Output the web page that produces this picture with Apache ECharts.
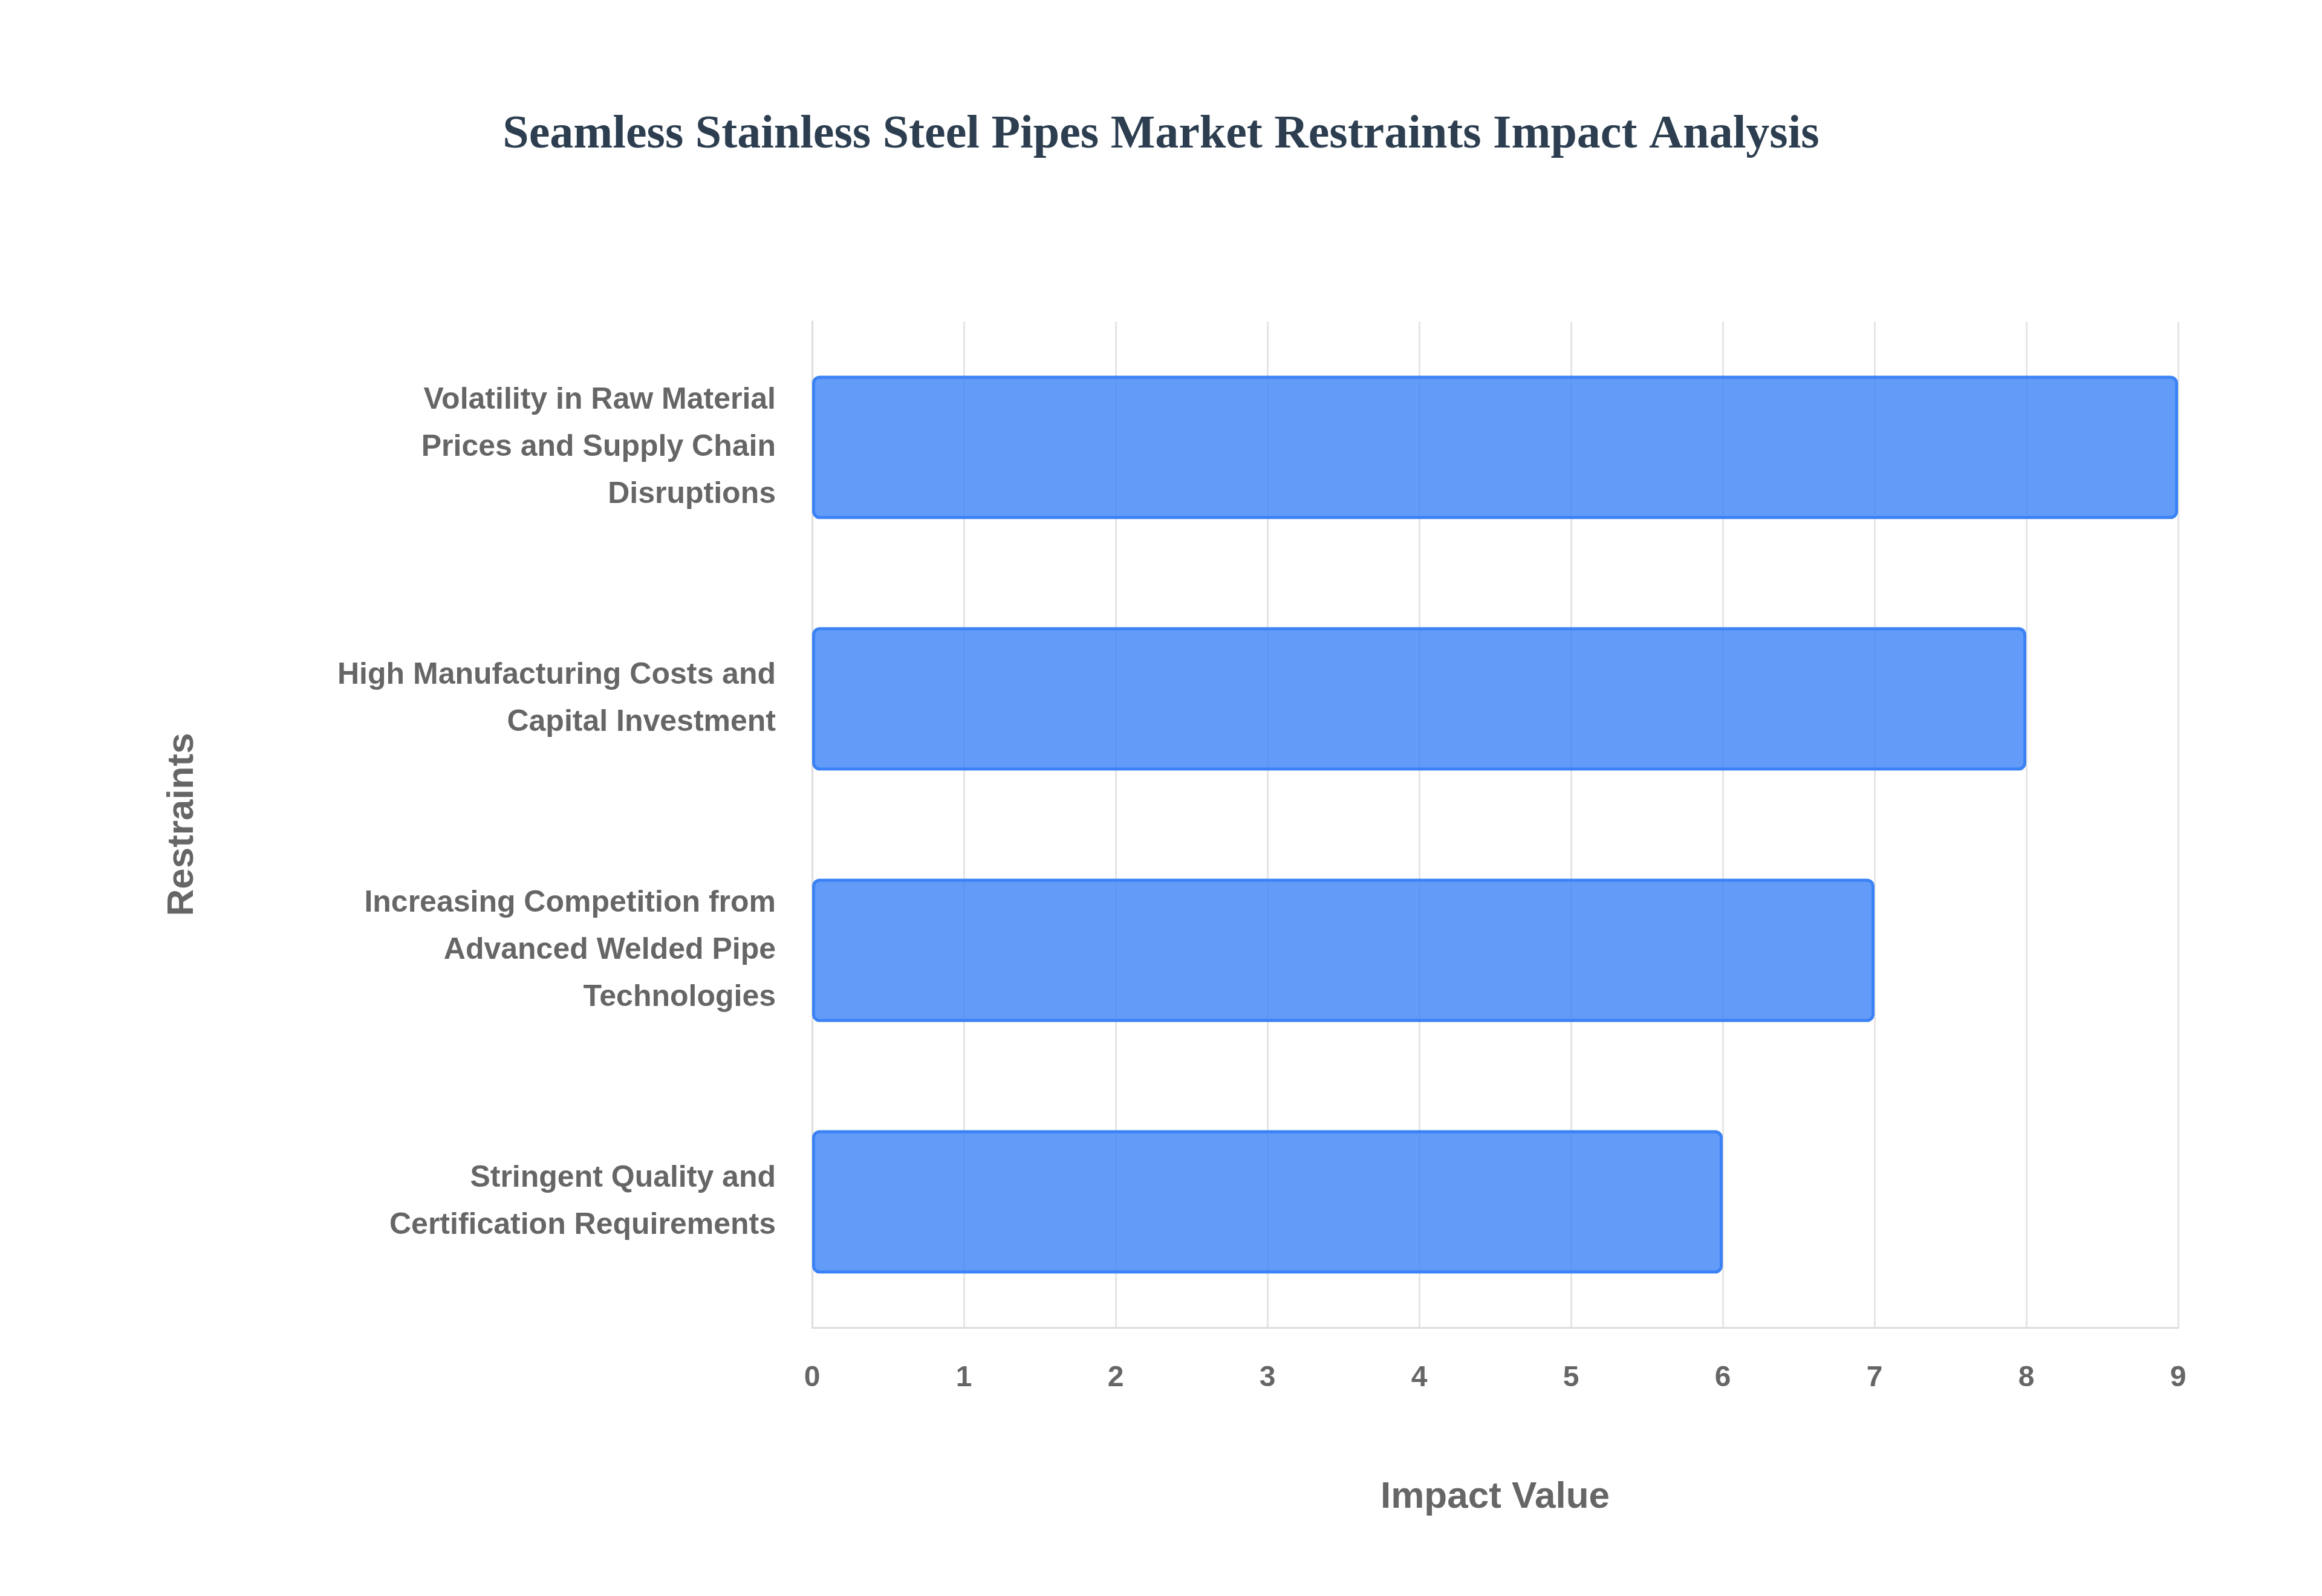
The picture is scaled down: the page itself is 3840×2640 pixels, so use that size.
<!DOCTYPE html>
<html>
<head>
<meta charset="utf-8">
<script src="https://cdn.jsdelivr.net/npm/echarts@6/dist/echarts.min.js"></script>
<style>html,body{margin:0;padding:0;background:#fff}#chart{width:3840px;height:2640px}</style>
</head>
<body>
<div id="chart"></div>
<script>
const restraints = [
  "Stringent Quality and\nCertification Requirements",
  "Increasing Competition from\nAdvanced Welded Pipe\nTechnologies",
  "High Manufacturing Costs and\nCapital Investment",
  "Volatility in Raw Material\nPrices and Supply Chain\nDisruptions"
];
const impactValues = [6, 7, 8, 9];

let chart = echarts.init(document.getElementById("chart"));
let option = {
  backgroundColor: "#fff",
  title: {
    text: "Seamless Stainless Steel Pipes Market Restraints Impact Analysis",
    left: "center",
    top: 180,
    textStyle: {
      fontFamily: "Liberation Serif",
      fontWeight: "bold",
      fontSize: 78,
      color: "#2c3e50"
    }
  },
  grid: { left: 1343, right: 3840 - 3602, top: 532, bottom: 2640 - 2196 },
  xAxis: {
    type: "value",
    min: 0,
    max: 9,
    interval: 1,
    name: "Impact Value",
    nameLocation: "middle",
    nameGap: 250,
    nameTextStyle: { fontFamily: "Liberation Sans", fontWeight: "bold", fontSize: 62, color: "#666" },
    axisLine: { show: true, lineStyle: { color: "#ddd", width: 3 } },
    axisTick: { show: false },
    axisLabel: { fontFamily: "Liberation Sans", fontWeight: "bold", fontSize: 48, color: "#666", margin: 60 },
    splitLine: { lineStyle: { color: "#e5e5e5", width: 3 } }
  },
  yAxis: {
    type: "category",
    data: restraints,
    name: "Restraints",
    nameLocation: "middle",
    nameGap: 1010,
    nameTextStyle: { fontFamily: "Liberation Sans", fontWeight: "bold", fontSize: 62, color: "#666" },
    axisLine: { show: true, lineStyle: { color: "#ddd", width: 3 } },
    axisTick: { show: false },
    axisLabel: { fontFamily: "Liberation Sans", fontWeight: "bold", fontSize: 50, color: "#666", lineHeight: 78, margin: 60 }
  },
  series: [{
    type: "bar",
    data: impactValues,
    barWidth: "57%",
    itemStyle: {
      color: "rgba(59,130,246,0.8)",
      borderColor: "#3b82f6",
      borderWidth: 5,
      borderRadius: 10
    }
  }]
};
chart.setOption(option);
</script>
</body>
</html>
